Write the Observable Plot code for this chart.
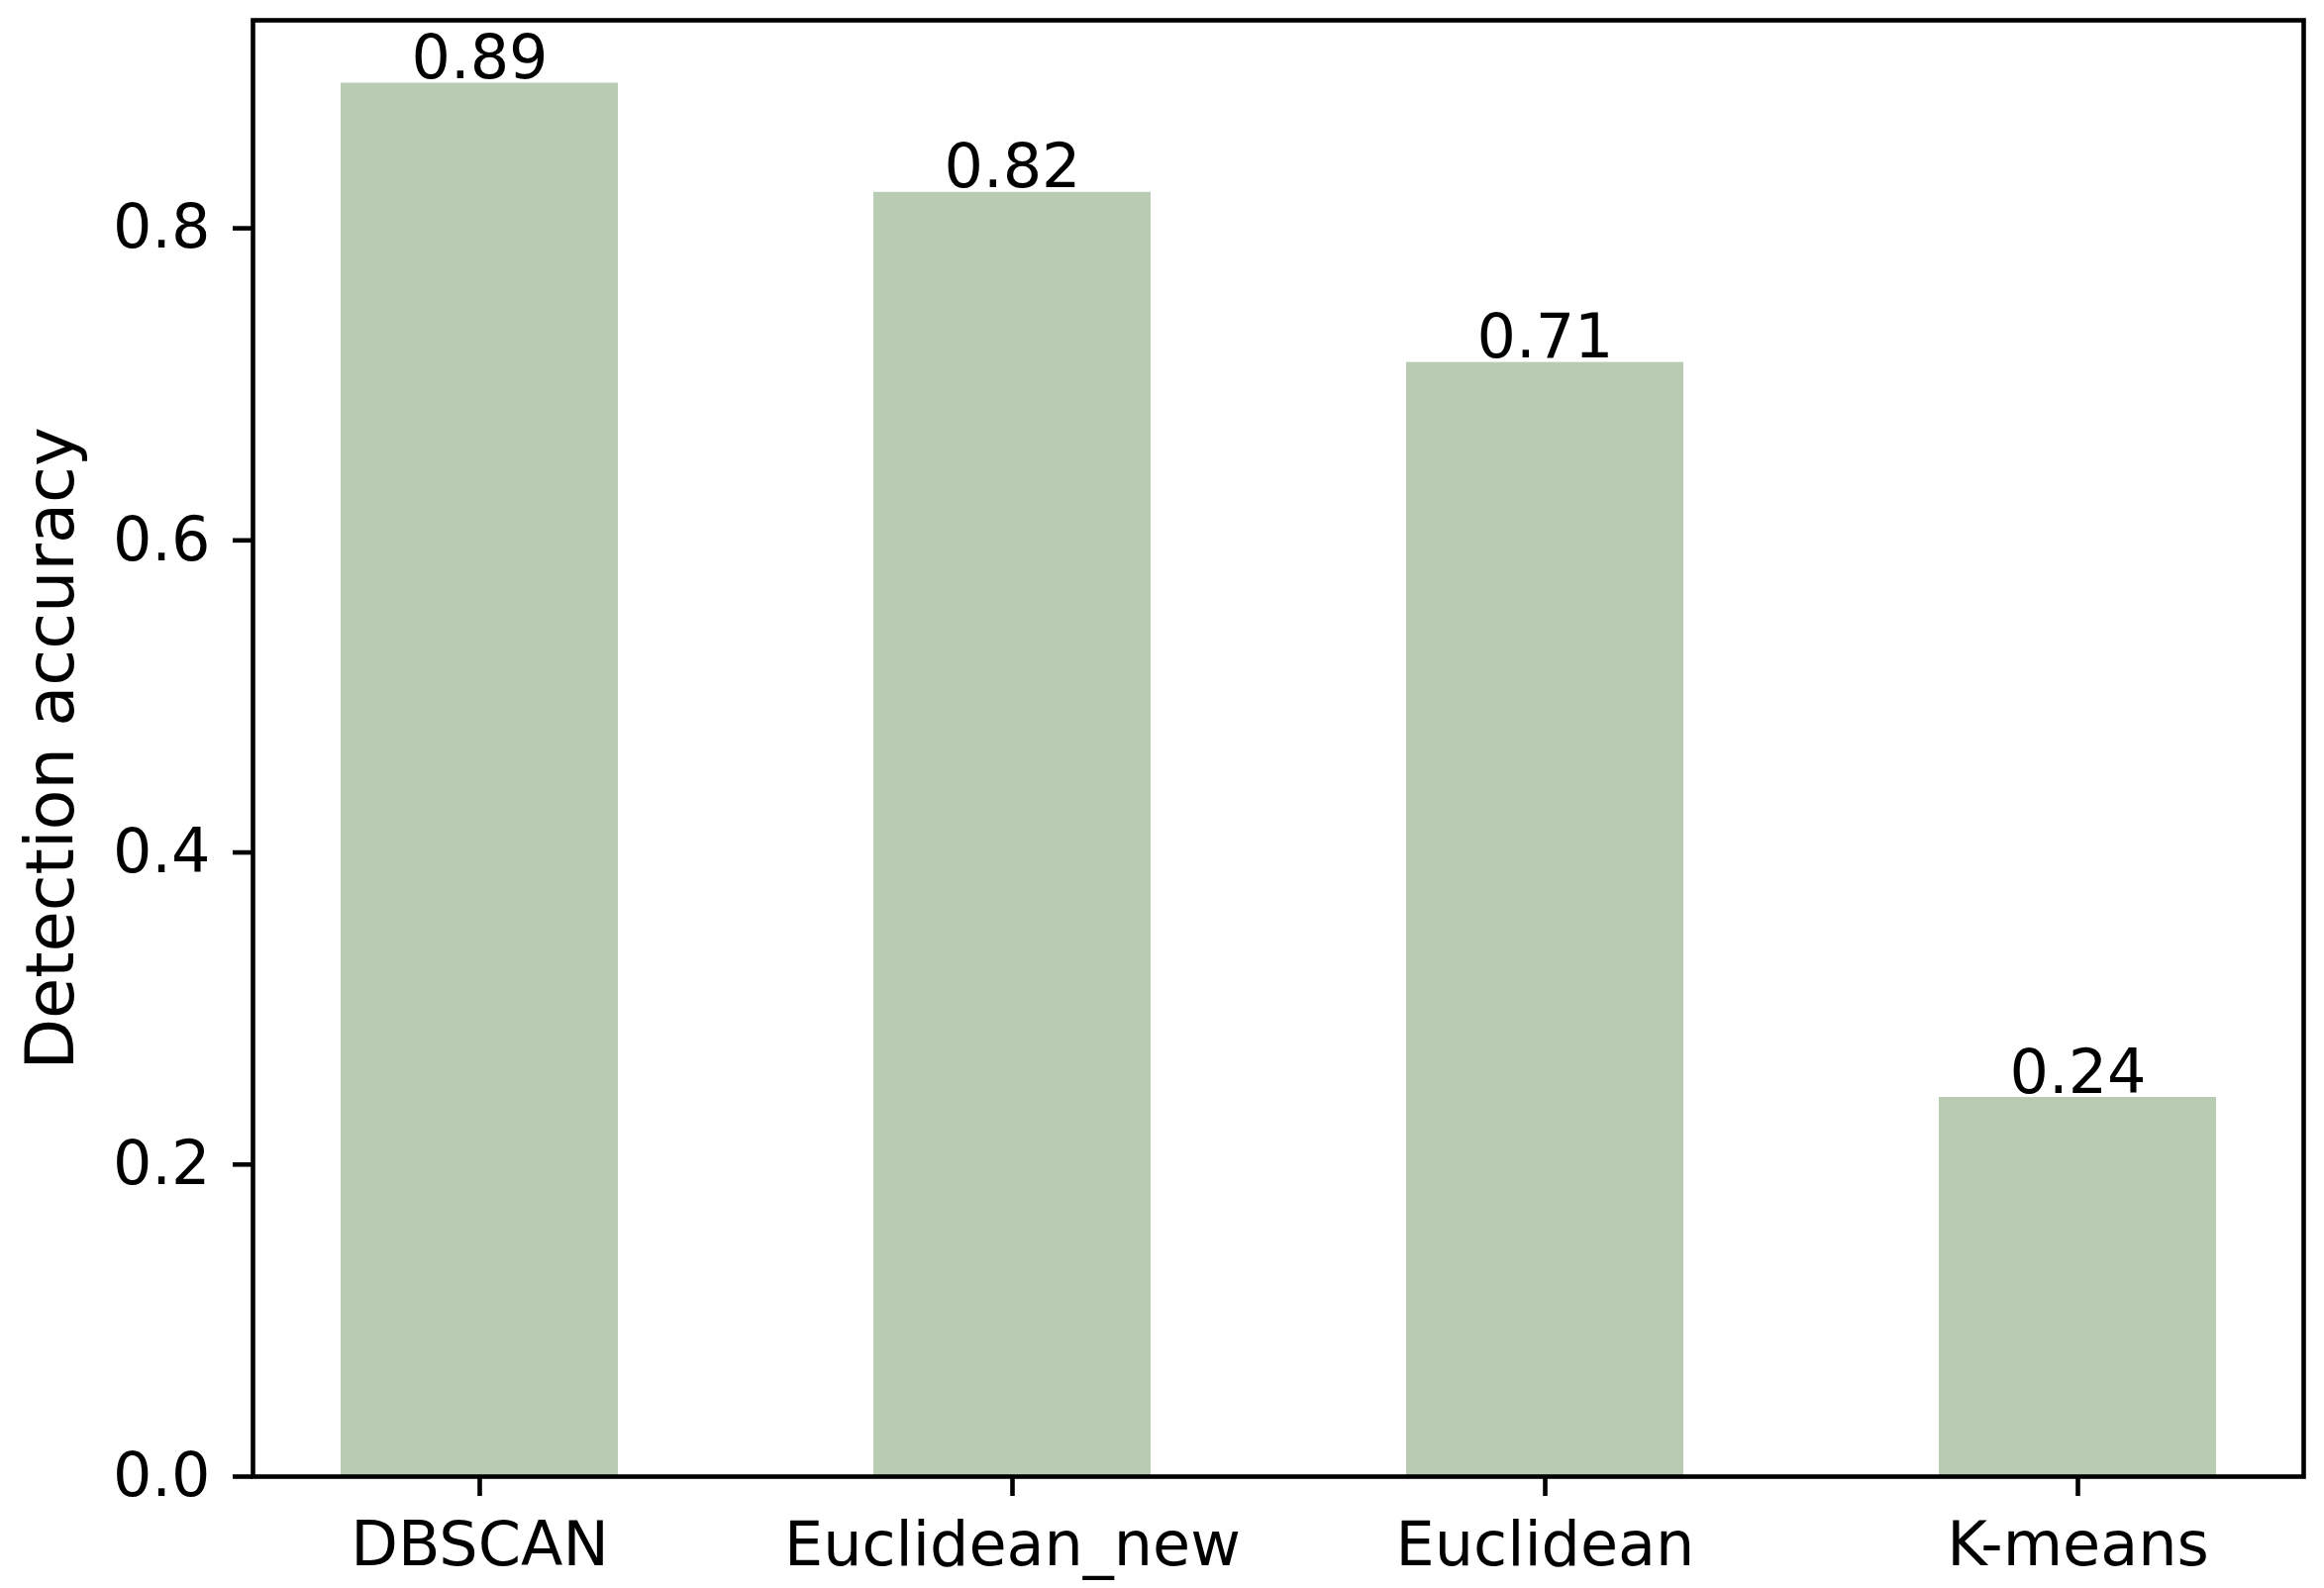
<!DOCTYPE html>
<html><head><meta charset="utf-8">
<script src="https://cdn.jsdelivr.net/npm/d3@7"></script>
<script src="https://cdn.jsdelivr.net/npm/@observablehq/plot@0.6"></script>
<style>html,body{margin:0;padding:0;background:#fff;}</style>
</head><body><div id="chart"></div>
<script>
const methods = ["DBSCAN", "Euclidean_new", "Euclidean", "K-means"];
const accuracy = [0.893, 0.823, 0.714, 0.243];
const yTicks = [0, 0.2, 0.4, 0.6, 0.8];
const yLabel = "Detection accuracy";

const data = methods.map((m, i) => ({method: m, value: accuracy[i]}));

const chart = Plot.plot({
  width: 2347, height: 1604,
  marginLeft: 255, marginRight: 21, marginTop: 20, marginBottom: 113,
  style: {fontFamily: "'DejaVu Sans', sans-serif", fontSize: "62px", background: "white", color: "black", overflow: "visible"},
  x: {domain: methods, paddingInner: 0.48, paddingOuter: 0.1645, align: 0.5},
  y: {domain: [0, 0.9333]},
  marks: [
    Plot.text(data, {x: "method", y: "value", text: d => d3.format(".2f")(d.value), lineAnchor: "bottom", dy: -5, fontSize: 62, fill: "black"}),
    Plot.barY(data, {x: "method", y: "value", fill: "#bacbb4"}),
    Plot.frame({stroke: "black", strokeWidth: 4.6}),
    Plot.axisX({tickSize: 20, tickPadding: 25, strokeWidth: 4.6, label: null, fontSize: 62}),
    Plot.axisY({ticks: yTicks, tickSize: 20, tickPadding: 23, strokeWidth: 4.6, tickFormat: d3.format(".1f"), label: null, fontSize: 62}),
    Plot.text([yLabel], {frameAnchor: "left", textAnchor: "middle", rotate: -90, dx: -182, lineAnchor: "bottom", fontSize: 67, fill: "black"})
  ]
});
document.getElementById("chart").appendChild(chart);
</script>
</body></html>
